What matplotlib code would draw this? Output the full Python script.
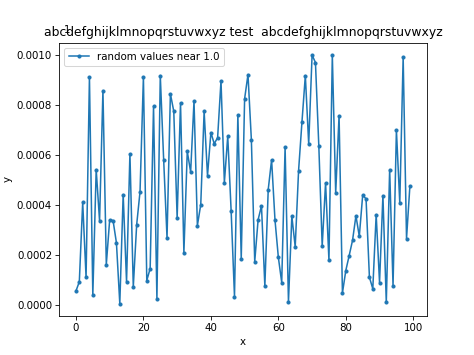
import matplotlib
matplotlib.use("Agg")
import matplotlib.pyplot as plt

x = list(range(100))
values = [
    0.000054, 0.000091, 0.000409, 0.000109, 0.000910, 0.000038, 0.000540, 0.000335, 0.000856, 0.000160,
    0.000339, 0.000336, 0.000247, 0.000004, 0.000440, 0.000091, 0.000603, 0.000071, 0.000319, 0.000452,
    0.000910, 0.000096, 0.000144, 0.000793, 0.000022, 0.000916, 0.000580, 0.000267, 0.000843, 0.000773,
    0.000347, 0.000807, 0.000208, 0.000613, 0.000530, 0.000814, 0.000316, 0.000400, 0.000773, 0.000515,
    0.000688, 0.000643, 0.000668, 0.000895, 0.000488, 0.000673, 0.000376, 0.000032, 0.000759, 0.000183,
    0.000823, 0.000920, 0.000660, 0.000172, 0.000339, 0.000395, 0.000074, 0.000460, 0.000579, 0.000339,
    0.000189, 0.000088, 0.000629, 0.000011, 0.000353, 0.000231, 0.000536, 0.000730, 0.000916, 0.000642,
    0.000998, 0.000968, 0.000634, 0.000234, 0.000487, 0.000177, 0.000998, 0.000446, 0.000756, 0.000046,
    0.000136, 0.000196, 0.000257, 0.000355, 0.000273, 0.000437, 0.000423, 0.000109, 0.000063, 0.000360,
    0.000088, 0.000436, 0.000009, 0.000540, 0.000075, 0.000698, 0.000406, 0.000990, 0.000264, 0.000475,
]
series_label = "random values near 1.0"
title = "abcdefghijklmnopqrstuvwxyz test  abcdefghijklmnopqrstuvwxyz"

fig, ax = plt.subplots(figsize=(474 / 74, 355 / 74), dpi=74)
ax.plot(x, values, marker='.', label=series_label)
ax.set_xlabel('x')
ax.set_ylabel('y')
ax.set_title(title)
ax.legend(loc='upper left')
ax.text(0.012, 1.035, '1', transform=ax.transAxes, fontsize=10)
fig.savefig('out.png', dpi=74)
